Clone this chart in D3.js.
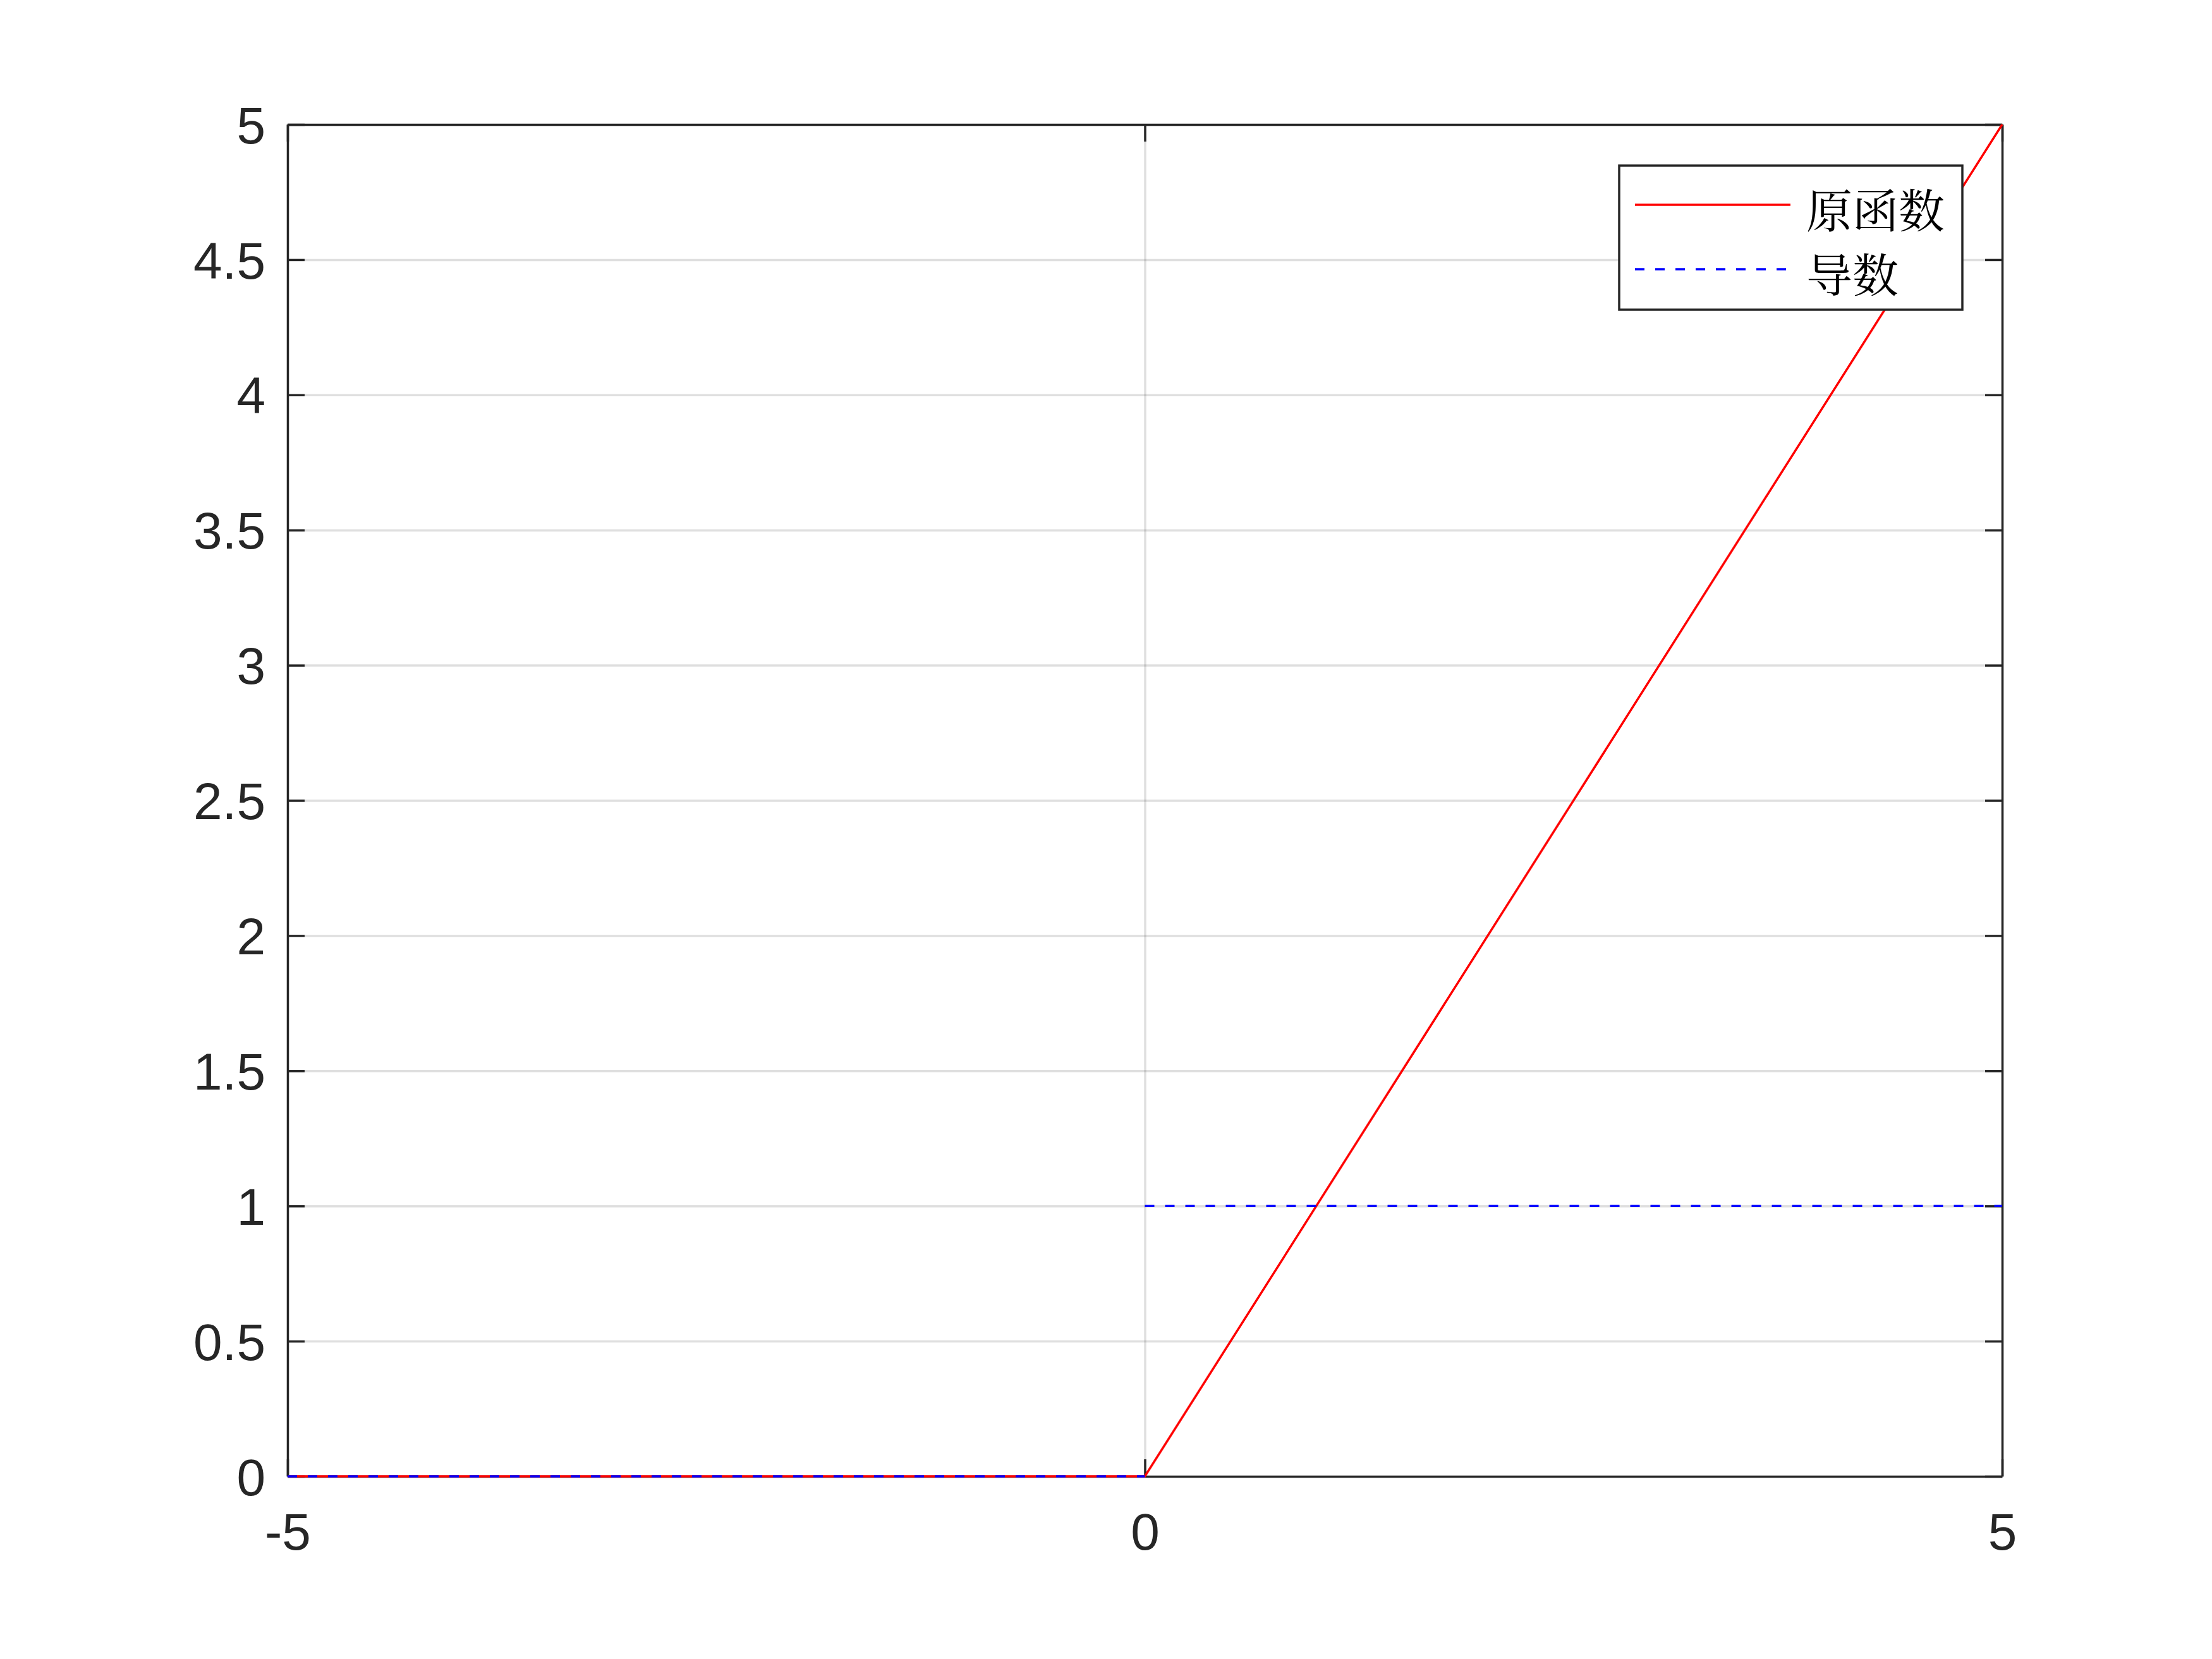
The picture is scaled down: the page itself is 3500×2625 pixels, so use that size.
<!DOCTYPE html>
<html>
<head>
<meta charset="utf-8">
<script src="https://cdn.jsdelivr.net/npm/d3@7"></script>
<style>
  body { margin: 0; background: #fff; }
</style>
</head>
<body>
<div id="chart"></div>
<script>
// ReLU and its derivative, sampled where the picture bends
const reluX = [-5, 0, 5];
const reluY = [0, 0, 5];
// derivative has a jump at 0, null breaks the line there
const derivX = [-5, 0, null, 0, 5];
const derivY = [0, 0, null, 1, 1];

const xTicks = [-5, 0, 5];
const yTicks = [0, 0.5, 1, 1.5, 2, 2.5, 3, 3.5, 4, 4.5, 5];
const seriesNames = ["原函数", "导数"];

const W = 3500, H = 2625;
const margin = { top: 197, right: 332, bottom: 289, left: 455 };
const width = W - margin.left - margin.right,
  height = H - margin.top - margin.bottom;
const axisColor = "#262626";
const tickLen = 27;
const fontSize = 82;

const x = d3.scaleLinear([-5, 5], [0, width]);
const y = d3.scaleLinear([0, 5], [height, 0]);

const svg = d3
  .select("#chart")
  .append("svg")
  .attr("width", W)
  .attr("height", H)
  .attr("viewBox", [0, 0, W, H]);

svg.append("rect").attr("width", W).attr("height", H).attr("fill", "#fff");

const g = svg
  .append("g")
  .attr("transform", `translate(${margin.left},${margin.top})`);

// grid lines
g.append("g")
  .attr("transform", `translate(0,${height})`)
  .call(d3.axisBottom(x).tickValues(xTicks).tickSize(-height).tickFormat(""))
  .call((a) => a.select(".domain").remove())
  .call((a) =>
    a.selectAll(".tick line").attr("stroke", axisColor).attr("stroke-opacity", 0.15).attr("stroke-width", 3.5),
  );
g.append("g")
  .call(d3.axisLeft(y).tickValues(yTicks).tickSize(-width).tickFormat(""))
  .call((a) => a.select(".domain").remove())
  .call((a) =>
    a.selectAll(".tick line").attr("stroke", axisColor).attr("stroke-opacity", 0.15).attr("stroke-width", 3.5),
  );

const styleAxis = (a) => {
  a.attr("font-family", "'Liberation Sans', Arial, sans-serif").attr("font-size", fontSize);
  a.selectAll(".domain").attr("stroke", axisColor).attr("stroke-width", 3.5);
  a.selectAll(".tick line").attr("stroke", axisColor).attr("stroke-width", 3.5);
  a.selectAll(".tick text").attr("fill", axisColor);
};

// bottom axis
g.append("g")
  .attr("transform", `translate(0,${height})`)
  .call(
    d3.axisBottom(x).tickValues(xTicks).tickSize(-tickLen).tickSizeOuter(0).tickPadding(58)
      .tickFormat((d) => String(d)),
  )
  .call(styleAxis);

// left axis
g.append("g")
  .call(
    d3.axisLeft(y).tickValues(yTicks).tickSize(-tickLen).tickSizeOuter(0).tickPadding(35)
      .tickFormat((d) => String(d)),
  )
  .call(styleAxis)
  .call((a) => a.selectAll(".tick text").attr("dy", "0.355em"));

// top and right (box)
g.append("g")
  .call(d3.axisTop(x).tickValues(xTicks).tickSize(-tickLen).tickSizeOuter(0).tickFormat(""))
  .call(styleAxis);
g.append("g")
  .attr("transform", `translate(${width},0)`)
  .call(d3.axisRight(y).tickValues(yTicks).tickSize(-tickLen).tickSizeOuter(0).tickFormat(""))
  .call(styleAxis);

// data lines
const line = d3
  .line()
  .defined((d) => d[1] !== null)
  .x((d) => x(d[0]))
  .y((d) => y(d[1]));

g.append("path")
  .attr("fill", "none")
  .attr("stroke", "#ff0000")
  .attr("stroke-width", 3.5)
  .attr("d", line(reluX.map((v, i) => [v, reluY[i]])));

g.append("path")
  .attr("fill", "none")
  .attr("stroke", "#0000ff")
  .attr("stroke-width", 3.5)
  .attr("stroke-dasharray", "15,17")
  .attr("d", line(derivX.map((v, i) => [v, derivY[i]])));

// legend
const legend = svg.append("g").attr("transform", "translate(2562,262)");
legend
  .append("rect")
  .attr("width", 543)
  .attr("height", 228)
  .attr("fill", "#fff")
  .attr("stroke", axisColor)
  .attr("stroke-width", 3.5);

const legendStyles = [
  { color: "#ff0000", dash: null },
  { color: "#0000ff", dash: "15,17" },
];
const rows = legend
  .selectAll("g.item")
  .data(seriesNames)
  .join("g")
  .attr("class", "item")
  .attr("transform", (d, i) => `translate(0,${62 + i * 102})`);

rows
  .append("line")
  .attr("x1", 25)
  .attr("x2", 271)
  .attr("stroke", (d, i) => legendStyles[i].color)
  .attr("stroke-width", 3.5)
  .attr("stroke-dasharray", (d, i) => legendStyles[i].dash);

rows
  .append("text")
  .attr("x", 296)
  .attr("y", 4)
  .attr("dominant-baseline", "central")
  .attr("font-family", "'Noto Serif CJK SC', 'Noto Sans CJK SC', serif")
  .attr("font-size", 73)
  .attr("fill", "#000")
  .text((d) => d);
</script>
</body>
</html>
